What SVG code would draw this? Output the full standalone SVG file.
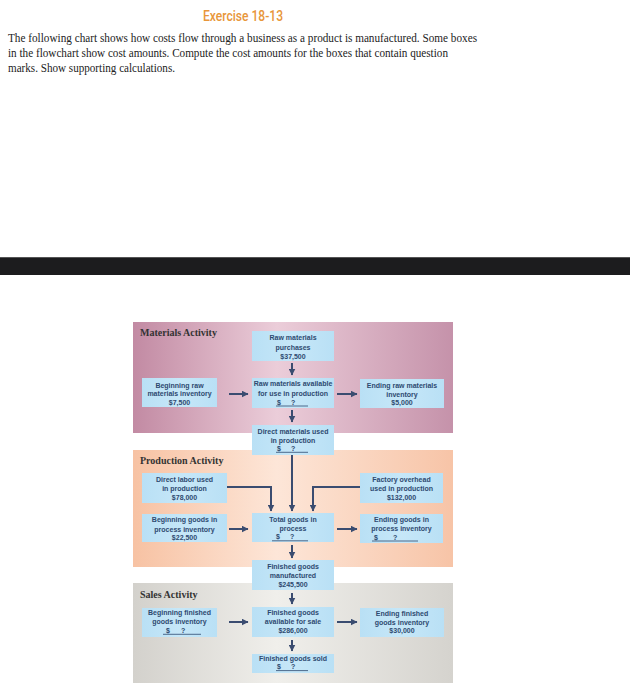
<svg xmlns="http://www.w3.org/2000/svg" width="631" height="700" viewBox="0 0 631 700">
<defs>
<linearGradient id="gPink" x1="0" y1="0" x2="1" y2="0">
<stop offset="0" stop-color="#c28aa3"/><stop offset="0.45" stop-color="#ebcdd9"/><stop offset="1" stop-color="#c592aa"/>
</linearGradient>
<linearGradient id="gPeach" x1="0" y1="0" x2="1" y2="0">
<stop offset="0" stop-color="#f7c2a3"/><stop offset="0.45" stop-color="#fde6d8"/><stop offset="1" stop-color="#f7c4a7"/>
</linearGradient>
<linearGradient id="gGray" x1="0" y1="0" x2="1" y2="0">
<stop offset="0" stop-color="#d3d1cc"/><stop offset="0.45" stop-color="#f0efeb"/><stop offset="1" stop-color="#d5d3ce"/>
</linearGradient>
<linearGradient id="gBox" x1="0" y1="0" x2="1" y2="0">
<stop offset="0" stop-color="#b9e0f5"/><stop offset="0.5" stop-color="#c6e7f8"/><stop offset="1" stop-color="#b9e0f5"/>
</linearGradient>
<marker id="ah" markerUnits="userSpaceOnUse" markerWidth="7" markerHeight="7" viewBox="0 0 7 7" refX="6.5" refY="3.5" orient="auto">
<path d="M0,0 L7,3.5 L0,7 Z" fill="#3a4c70"/>
</marker>
<style>
.box{fill:url(#gBox);}
.bt{font-family:"Liberation Sans",Arial,sans-serif;font-weight:bold;font-size:7px;fill:#2e4a70;text-anchor:middle;}
.bl{font-family:"Liberation Sans",Arial,sans-serif;font-weight:bold;font-size:7px;fill:#2e4a70;}
.ul{stroke:#2e4a70;stroke-width:0.8;}
.ttl{font-family:"Liberation Serif","Times New Roman",serif;font-weight:bold;font-size:10px;fill:#333;}
.con{stroke:#3a4c70;stroke-width:2;fill:none;marker-end:url(#ah);}
.para{font-family:"Liberation Serif","Times New Roman",serif;font-size:13px;fill:#222;}
</style>
</defs>
<rect x="0" y="0" width="631" height="700" fill="#ffffff"/>
<text x="243" y="21" font-family="Roboto,'Liberation Sans',sans-serif" font-size="15" font-weight="500" fill="#e8963a" text-anchor="middle" textLength="80" lengthAdjust="spacingAndGlyphs">Exercise 18-13</text>
<text class="para" x="8" y="42" textLength="469" lengthAdjust="spacingAndGlyphs">The following chart shows how costs flow through a business as a product is manufactured. Some boxes</text>
<text class="para" x="8" y="57" textLength="440" lengthAdjust="spacingAndGlyphs">in the flowchart show cost amounts. Compute the cost amounts for the boxes that contain question</text>
<text class="para" x="8" y="72" textLength="167" lengthAdjust="spacingAndGlyphs">marks. Show supporting calculations.</text>
<rect x="0" y="257" width="630" height="18" fill="#1c1c1e"/>
<rect x="0" y="257" width="630" height="1" fill="#555"/>

<g id="panels">
<rect x="133" y="322" width="320" height="111" fill="url(#gPink)"/>
<rect x="133" y="450" width="320" height="117" fill="url(#gPeach)"/>
<rect x="133" y="583" width="320" height="100" fill="url(#gGray)"/>
<text class="ttl" x="140" y="336">Materials Activity</text>
<text class="ttl" x="140" y="464">Production Activity</text>
<text class="ttl" x="140" y="598">Sales Activity</text>
</g>

<g id="connectors">
<line class="con" x1="292" y1="363" x2="292" y2="375"/>
<line class="con" x1="229" y1="394" x2="248" y2="394"/>
<line class="con" x1="337" y1="394" x2="357" y2="394"/>
<line class="con" x1="292" y1="410" x2="292" y2="422"/>
<path class="con" d="M227,487 H271 V511"/>
<line class="con" x1="292" y1="455" x2="292" y2="511"/>
<path class="con" d="M360,487 H313 V511"/>
<line class="con" x1="229" y1="529" x2="248" y2="529"/>
<line class="con" x1="337" y1="529" x2="357" y2="529"/>
<line class="con" x1="292" y1="545" x2="292" y2="558"/>
<line class="con" x1="292" y1="593" x2="292" y2="604"/>
<line class="con" x1="229" y1="622" x2="248" y2="622"/>
<line class="con" x1="337" y1="622" x2="357" y2="622"/>
<line class="con" x1="292" y1="640" x2="292" y2="651"/>
</g>

<g id="rm-purchases">
<rect class="box" x="252" y="331" width="82" height="30"/>
<text class="bt" x="293" y="340">Raw materials</text>
<text class="bt" x="293" y="350">purchases</text>
<text class="bt" x="293" y="359">$37,500</text>
</g>
<g id="beg-rm">
<rect class="box" x="142" y="378" width="75" height="29"/>
<text class="bt" x="179.5" y="387.5">Beginning raw</text>
<text class="bt" x="179.5" y="396">materials inventory</text>
<text class="bt" x="179.5" y="404.5">$7,500</text>
</g>
<g id="rm-available">
<rect class="box" x="252" y="378" width="82" height="30"/>
<text class="bt" x="293" y="386">Raw materials available</text>
<text class="bt" x="293" y="395.5">for use in production</text>
<text class="bl" x="277" y="404.5">$</text><text class="bl" x="291" y="404.5">?</text>
<line class="ul" x1="276" y1="406" x2="308" y2="406"/>
</g>
<g id="end-rm">
<rect class="box" x="360" y="379" width="84" height="29"/>
<text class="bt" x="402" y="387.5">Ending raw materials</text>
<text class="bt" x="402" y="396.5">inventory</text>
<text class="bt" x="402" y="404.5">$5,000</text>
</g>
<g id="dm-used">
<rect class="box" x="252" y="425" width="82" height="30"/>
<text class="bt" x="293" y="433.5">Direct materials used</text>
<text class="bt" x="293" y="442.5">in production</text>
<text class="bl" x="277" y="450.5">$</text><text class="bl" x="291" y="450.5">?</text>
<line class="ul" x1="276" y1="452.3" x2="308" y2="452.3"/>
</g>
<g id="dl-used">
<rect class="box" x="142" y="473" width="85" height="30"/>
<text class="bt" x="184.5" y="481.6">Direct labor used</text>
<text class="bt" x="184.5" y="491">in production</text>
<text class="bt" x="184.5" y="499.6">$78,000</text>
</g>
<g id="fo-used">
<rect class="box" x="360" y="473" width="83" height="30"/>
<text class="bt" x="401.5" y="481.5">Factory overhead</text>
<text class="bt" x="401.5" y="490.8">used in production</text>
<text class="bt" x="401.5" y="499.8">$132,000</text>
</g>
<g id="beg-gip">
<rect class="box" x="142" y="514" width="85" height="28"/>
<text class="bt" x="184.5" y="522.3">Beginning goods in</text>
<text class="bt" x="184.5" y="531.6">process inventory</text>
<text class="bt" x="184.5" y="540.4">$22,500</text>
</g>
<g id="total-gip">
<rect class="box" x="252" y="513" width="82" height="29"/>
<text class="bt" x="293" y="521.6">Total goods in</text>
<text class="bt" x="293" y="530.6">process</text>
<text class="bl" x="276" y="539.3">$</text><text class="bl" x="290" y="539.3">?</text>
<line class="ul" x1="272" y1="540.8" x2="308" y2="540.8"/>
</g>
<g id="end-gip">
<rect class="box" x="360" y="514" width="83" height="29"/>
<text class="bt" x="401.5" y="521.8">Ending goods in</text>
<text class="bt" x="401.5" y="530.8">process inventory</text>
<text class="bl" x="374" y="539.6">$</text><text class="bl" x="393" y="539.6">?</text>
<line class="ul" x1="372" y1="541" x2="418" y2="541"/>
</g>
<g id="fg-manufactured">
<rect class="box" x="252" y="560" width="82" height="30"/>
<text class="bt" x="293" y="569">Finished goods</text>
<text class="bt" x="293" y="578">manufactured</text>
<text class="bt" x="293" y="586.8">$245,500</text>
</g>
<g id="beg-fg">
<rect class="box" x="142" y="608" width="75" height="29"/>
<text class="bt" x="179.5" y="615">Beginning finished</text>
<text class="bt" x="179.5" y="624">goods inventory</text>
<text class="bl" x="166" y="632.8">$</text><text class="bl" x="181" y="632.8">?</text>
<line class="ul" x1="163" y1="634.3" x2="201" y2="634.3"/>
</g>
<g id="fg-available">
<rect class="box" x="252" y="607" width="82" height="30"/>
<text class="bt" x="293" y="614.8">Finished goods</text>
<text class="bt" x="293" y="624">available for sale</text>
<text class="bt" x="293" y="633.3">$286,000</text>
</g>
<g id="end-fg">
<rect class="box" x="360" y="608" width="84" height="29"/>
<text class="bt" x="402" y="615.6">Ending finished</text>
<text class="bt" x="402" y="625">goods inventory</text>
<text class="bt" x="402" y="633.3">$30,000</text>
</g>
<g id="fg-sold">
<rect class="box" x="252" y="654" width="82" height="19"/>
<text class="bt" x="293" y="661.3">Finished goods sold</text>
<text class="bl" x="277" y="669">$</text><text class="bl" x="291" y="669">?</text>
<line class="ul" x1="276" y1="670.6" x2="308" y2="670.6"/>
</g>
</svg>
